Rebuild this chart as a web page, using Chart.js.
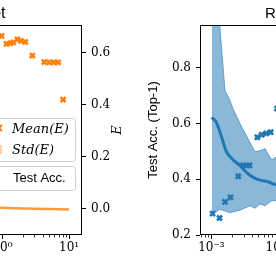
<!DOCTYPE html>
<html>
<head>
<meta charset="utf-8">
<script src="https://cdn.jsdelivr.net/npm/chart.js@4.4.1/dist/chart.umd.min.js"></script>
<style>
  html, body { margin: 0; padding: 0; background: #fff; }
  body { width: 276px; height: 276px; overflow: hidden; position: relative; }
  #leftChart { position: absolute; left: -220px; top: 0; }
  #rightChart { position: absolute; left: 130px; top: 0; }
</style>
</head>
<body>
<canvas id="leftChart" width="360" height="276"></canvas>
<canvas id="rightChart" width="380" height="276"></canvas>
<script>
// ---- data (left panel, E axis) ----
const meanEX = [0.966, 1.148, 1.316, 1.459, 1.675, 1.889, 2.2, 2.81, 4.24, 5.03, 5.87, 6.85, 8.13];
const meanEY = [0.663, 0.633, 0.635, 0.638, 0.65, 0.644, 0.64, 0.588, 0.563, 0.562, 0.562, 0.562, 0.419];
const stdEX = [0.5, 1, 2, 3, 5, 10];
const stdEY = [0.004, 0.004, 0.002, 0.001, 0.0, -0.002];
const eTicks = [0.0, 0.2, 0.4, 0.6];

// ---- data (right panel, test accuracy) ----
const accX = [0.00104, 0.00132, 0.00159, 0.00192, 0.00251, 0.00295, 0.00333, 0.00369, 0.00481, 0.00559, 0.00652, 0.0076, 0.00944];
const accY = [0.277, 0.261, 0.319, 0.335, 0.411, 0.450, 0.450, 0.450, 0.551, 0.560, 0.565, 0.569, 0.654];
const accMeanX = [0.00101, 0.00117, 0.00144, 0.00167, 0.00209, 0.00266, 0.00338, 0.0043, 0.00545, 0.00693, 0.00912, 0.0116];
const accMeanY = [0.622, 0.607, 0.546, 0.499, 0.470, 0.449, 0.423, 0.405, 0.396, 0.391, 0.380, 0.377];
const bandX = [0.00101, 0.00117, 0.00133, 0.00159, 0.00189, 0.00209, 0.00266, 0.00375, 0.00445, 0.00527, 0.00626, 0.00787, 0.00928, 0.0116];
const bandHi = [1.2, 1.1, 0.953, 0.719, 0.683, 0.654, 0.600, 0.532, 0.499, 0.503, 0.510, 0.470, 0.481, 0.467];
const bandLo = [0.275, 0.283, 0.292, 0.286, 0.280, 0.283, 0.289, 0.305, 0.296, 0.311, 0.305, 0.323, 0.323, 0.330];
const accTicks = [0.2, 0.4, 0.6, 0.8];

const serif = "'DejaVu Serif', serif";
const sans = "'Liberation Sans', Arial, sans-serif";
const orange = '#ff7f0e';
const blue = '#1f77b4';

const pts = (xs, ys) => xs.map((x, i) => ({x: x, y: ys[i]}));

const supMap = {'-': '\u207b', '0': '\u2070', '1': '\u00b9', '2': '\u00b2', '3': '\u00b3', '4': '\u2074'};
function isPow10(v) {
    const k = Math.round(Math.log10(v));
    return Math.abs(v / Math.pow(10, k) - 1) < 1e-6;
}
function powLabel(v) {
    if (!isPow10(v)) return '';
    const k = Math.round(Math.log10(v));
    return '10' + String(k).split('').map(c => supMap[c]).join('');
}
function logTicks(scale) {
    const out = [];
    for (let k = -4; k <= 2; k++) {
        for (let m = 1; m <= 9; m++) {
            const v = parseFloat((m * Math.pow(10, k)).toPrecision(6));
            if (v >= scale.min && v <= scale.max) out.push({value: v});
        }
    }
    scale.ticks = out;
}

function xAxis(min, max) {
    return {
        type: 'logarithmic',
        min: min, max: max,
        afterBuildTicks: logTicks,
        afterFit: s => { s.height = 41; },
        border: {display: false},
        grid: {
            drawOnChartArea: false, drawTicks: true, tickLength: 4,
            tickColor: c => (c.tick && isPow10(c.tick.value)) ? '#000' : 'rgba(0,0,0,0)'
        },
        ticks: {
            autoSkip: false, maxRotation: 0, padding: 2, color: '#000',
            font: {family: serif, size: 12},
            callback: v => powLabel(v)
        }
    };
}

// box, minor ticks, rotated labels, titles
function framePlugin(extra) {
    return {
        id: 'frame',
        afterDraw(chart) {
            const ctx = chart.ctx;
            const a = chart.chartArea;
            ctx.save();
            ctx.strokeStyle = '#000';
            ctx.lineWidth = 1;
            ctx.strokeRect(Math.round(a.left) + 0.5, Math.round(a.top) + 0.5,
                Math.round(a.right - a.left) - 1, Math.round(a.bottom - a.top) - 1);
            const xs = chart.scales.x;
            ctx.beginPath();
            xs.ticks.forEach(t => {
                if (isPow10(t.value)) return;
                const px = Math.round(xs.getPixelForValue(t.value)) + 0.5;
                ctx.moveTo(px, a.bottom);
                ctx.lineTo(px, a.bottom + 2.5);
            });
            ctx.lineWidth = 0.8;
            ctx.stroke();
            extra(ctx, a);
            ctx.restore();
        }
    };
}

// ---------- left chart ----------
new Chart(document.getElementById('leftChart'), {
    type: 'scatter',
    data: {
        datasets: [
            {
                label: 'Mean(E)',
                data: pts(meanEX, meanEY),
                pointStyle: 'crossRot', radius: 3.5, borderWidth: 2.6,
                borderColor: orange, backgroundColor: orange,
                order: 0
            },
            {
                label: 'Std(E)',
                data: pts(stdEX, stdEY),
                showLine: true, pointRadius: 0,
                borderColor: 'rgba(255,127,14,0.8)', borderWidth: 2.5,
                order: 1
            }
        ]
    },
    options: {
        responsive: false, animation: false, devicePixelRatio: 1,
        layout: {padding: {top: 25, left: 8, right: 0, bottom: 0}},
        plugins: {legend: {display: false}, tooltip: {enabled: false}},
        scales: {
            x: xAxis(Math.pow(10, -3.194), Math.pow(10, 1.194)),
            y: {
                position: 'right',
                min: -0.1, max: 0.705,
                afterBuildTicks: s => { s.ticks = eTicks.map(v => ({value: v})); },
                afterFit: s => { s.width = 58; },
                border: {display: false},
                grid: {drawOnChartArea: false, drawTicks: true, tickLength: 4, tickColor: '#000'},
                ticks: {padding: 5, color: '#000', font: {family: serif, size: 12}, callback: v => v.toFixed(1)}
            }
        }
    },
    plugins: [framePlugin((ctx, a) => {
        // E axis label
        ctx.save();
        ctx.translate(338, (a.top + a.bottom) / 2);
        ctx.rotate(-Math.PI / 2);
        ctx.fillStyle = '#000';
        ctx.font = 'italic 13px ' + serif;
        ctx.textAlign = 'center';
        ctx.textBaseline = 'middle';
        ctx.fillText('E', 0, 0);
        ctx.restore();
        // title (cropped)
        ctx.fillStyle = '#000';
        ctx.font = '16px ' + sans;
        ctx.textAlign = 'right';
        ctx.textBaseline = 'alphabetic';
        ctx.fillText('ResNet', 225.5, 18);
        // legend boxes
        function box(x, y, w, h) {
            ctx.beginPath();
            ctx.roundRect(x + 0.5, y + 0.5, w, h, 3);
            ctx.fillStyle = 'rgba(255,255,255,0.85)';
            ctx.fill();
            ctx.strokeStyle = '#d0d0d0';
            ctx.lineWidth = 1;
            ctx.stroke();
        }
        box(120, 118, 175, 43);
        box(120, 166, 175, 24);
        // handles
        ctx.fillStyle = 'rgba(255,127,14,0.35)';
        ctx.fillRect(196, 145, 26, 9);
        ctx.strokeStyle = orange;
        ctx.lineWidth = 2;
        ctx.beginPath();
        ctx.moveTo(216, 125); ctx.lineTo(222, 131);
        ctx.moveTo(222, 125); ctx.lineTo(216, 131);
        ctx.stroke();
        // texts
        ctx.fillStyle = '#000';
        ctx.textAlign = 'left';
        ctx.font = 'italic 13px ' + serif;
        ctx.fillText('Mean(E)', 232, 133);
        ctx.fillText('Std(E)', 232, 154);
        ctx.font = '13px ' + sans;
        ctx.fillText('Test Acc.', 233, 182);
    })]
});

// ---------- right chart ----------
new Chart(document.getElementById('rightChart'), {
    type: 'scatter',
    data: {
        datasets: [
            {
                label: 'lower',
                data: pts(bandX, bandLo),
                showLine: true, pointRadius: 0, borderWidth: 1,
                borderColor: 'rgba(31,119,180,0.55)',
                order: 3
            },
            {
                label: 'upper',
                data: pts(bandX, bandHi),
                showLine: true, pointRadius: 0, borderWidth: 1,
                borderColor: 'rgba(31,119,180,0.55)',
                backgroundColor: 'rgba(31,119,180,0.52)',
                fill: '-1',
                order: 2
            },
            {
                label: 'Test Acc.',
                data: pts(accMeanX, accMeanY),
                showLine: true, pointRadius: 0, borderWidth: 3,
                borderColor: blue, tension: 0.3,
                order: 1
            },
            {
                label: 'acc',
                data: pts(accX, accY),
                pointStyle: 'crossRot', radius: 3.5, borderWidth: 2.6,
                borderColor: blue, backgroundColor: blue,
                order: 0
            }
        ]
    },
    options: {
        responsive: false, animation: false, devicePixelRatio: 1,
        layout: {padding: {top: 25, left: 0, right: 16, bottom: 0}},
        plugins: {legend: {display: false}, tooltip: {enabled: false}},
        scales: {
            x: xAxis(Math.pow(10, -3.17), Math.pow(10, 1.2)),
            y: {
                position: 'left',
                min: 0.2, max: 0.954,
                afterBuildTicks: s => { s.ticks = accTicks.map(v => ({value: v})); },
                afterFit: s => { s.width = 70; },
                border: {display: false},
                grid: {drawOnChartArea: false, drawTicks: true, tickLength: 4, tickColor: '#000'},
                ticks: {padding: 5, color: '#000', font: {family: serif, size: 12}, callback: v => v.toFixed(1)}
            }
        }
    },
    plugins: [framePlugin((ctx, a) => {
        ctx.save();
        ctx.translate(23, (a.top + a.bottom) / 2);
        ctx.rotate(-Math.PI / 2);
        ctx.fillStyle = '#000';
        ctx.font = '13px ' + sans;
        ctx.textAlign = 'center';
        ctx.textBaseline = 'middle';
        ctx.fillText('Test Acc. (Top-1)', 0, 0);
        ctx.restore();
        ctx.fillStyle = '#000';
        ctx.font = '15px ' + sans;
        ctx.textAlign = 'left';
        ctx.textBaseline = 'alphabetic';
        ctx.fillText('ResNet', 135, 18);
    })]
});
</script>
</body>
</html>
